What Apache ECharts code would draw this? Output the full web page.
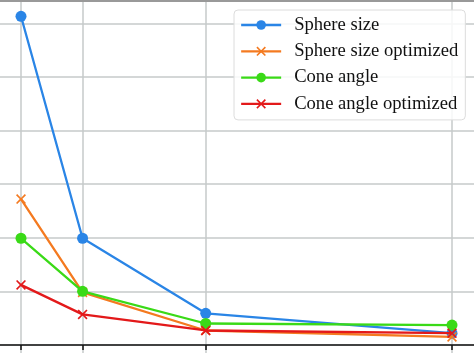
<!DOCTYPE html>
<html>
<head>
<meta charset="utf-8">
<script src="https://cdn.jsdelivr.net/npm/echarts@6/dist/echarts.min.js"></script>
<style>html,body{margin:0;padding:0;background:#fff}#c{width:474px;height:358px}</style>
</head>
<body>
<div id="c"></div>
<script>
// x positions (linear scale, only these ticks drawn)
var xValues = [1, 2, 4, 8];
// y values in gridline units (exact units not visible in the cropped figure)
var yTicks = [0, 1, 2, 3, 4, 5, 6];
var sphereSize = [6.13, 1.99, 0.59, 0.22];
var sphereSizeOpt = [2.72, 0.98, 0.27, 0.15];
var coneAngle = [1.99, 1.0, 0.40, 0.37];
var coneAngleOpt = [1.12, 0.57, 0.27, 0.22];
var seriesNames = ['Sphere size', 'Sphere size optimized', 'Cone angle', 'Cone angle optimized'];
var seriesColors = ['#2a85e6', '#f47a20', '#3ada17', '#e3191a'];

var crossPath = 'path://M0,1.2 L1.2,0 L5,3.8 L8.8,0 L10,1.2 L6.2,5 L10,8.8 L8.8,10 L5,6.2 L1.2,10 L0,8.8 L3.8,5 Z';
var symbols = ['circle', crossPath, 'circle', crossPath];
var sizes = [11, 10, 11, 10];
var allData = [sphereSize, sphereSizeOpt, coneAngle, coneAngleOpt];

function pairs(ys) { return xValues.map(function (x, i) { return [x, ys[i]]; }); }

var chart = echarts.init(document.getElementById('c'), null, {renderer: 'canvas'});
var series = allData.map(function (d, i) {
  return {
    name: seriesNames[i], type: 'line', data: pairs(d),
    symbol: symbols[i], symbolSize: sizes[i], showSymbol: true,
    lineStyle: {width: 2.3, color: seriesColors[i]},
    itemStyle: {color: seriesColors[i]},
    animation: false, z: 3 + i
  };
});
var pxPerUnit = (452 - 21) / 7;
chart.setOption({
  animation: false,
  grid: {left: 0, right: 0, top: 1, bottom: 5, containLabel: false},
  legend: {
    left: 234, top: 10, orient: 'vertical',
    data: seriesNames,
    itemWidth: 40, itemHeight: 12, itemGap: 6.3,
    padding: [5, 7, 6, 6],
    backgroundColor: 'rgba(255,255,255,0.85)',
    borderColor: '#dcdcdc', borderWidth: 1, borderRadius: 4,
    lineStyle: {width: 2.3},
    textStyle: {fontFamily: 'Liberation Serif', fontSize: 18.6, color: '#111', lineHeight: 20, padding: [0, 0, 0, 8]}
  },
  xAxis: [{
    type: 'value', min: 1 - 21 / pxPerUnit, max: 8 + 22 / pxPerUnit,
    axisLine: {show: true, lineStyle: {color: '#111', width: 1.5}},
    axisTick: {show: true, inside: false, length: 5, customValues: xValues, lineStyle: {color: '#111', width: 1.5}},
    axisLabel: {show: false, customValues: xValues},
    splitLine: {show: true, lineStyle: {color: '#c6caca', width: 1.5}}
  }, {
    type: 'value', position: 'top', min: 0, max: 1,
    axisLine: {show: true, lineStyle: {color: '#999', width: 2}},
    axisTick: {show: false}, axisLabel: {show: false}, splitLine: {show: false}
  }],
  yAxis: {
    type: 'value', min: -0.15, max: 6.415,
    axisLine: {show: false},
    axisTick: {show: false, customValues: yTicks},
    axisLabel: {show: false, customValues: yTicks},
    splitLine: {show: true, lineStyle: {color: '#c6caca', width: 1.5}}
  },
  series: series
});
</script>
</body>
</html>
